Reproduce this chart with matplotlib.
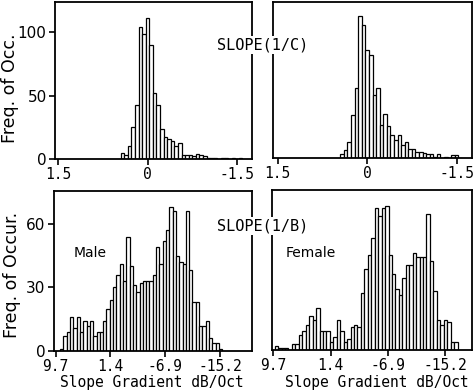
import numpy as np
import matplotlib
matplotlib.use("Agg")
import matplotlib.pyplot as plt

# slope histograms, values
top_bin_width = 0.06
top_first_center = 0.42
top_left_counts = [5, 3, 10, 25, 43, 104, 99, 111, 90, 52, 43, 24, 17, 16, 14, 10, 13,
                   3, 3, 3, 2, 4, 3, 2, 1, 1, 1, 0, 1, 1, 0, 1, 0, 1]
top_right_counts = [3, 6, 13, 34, 55, 112, 105, 85, 81, 50, 55, 26, 35, 25, 18, 14, 18,
                    10, 13, 7, 7, 5, 5, 4, 3, 3, 1, 3, 0, 1, 0, 2, 2, 0]

bottom_bin_width = 0.5
bottom_first_center = 9.25
male_counts = [0, 1, 7, 9, 16, 11, 16, 9, 14, 12, 14, 7, 9, 9, 14, 20, 24, 30, 36, 41,
               33, 54, 40, 31, 28, 32, 33, 33, 33, 36, 49, 41, 52, 57, 68, 66, 45, 42,
               41, 66, 38, 23, 23, 12, 12, 14, 6, 4, 4, 1]
female_counts = [2, 1, 1, 1, 0, 3, 3, 7, 9, 12, 16, 14, 20, 9, 9, 9, 4, 6, 14, 9, 4, 5,
                 11, 12, 11, 27, 38, 45, 53, 67, 63, 67, 68, 45, 36, 29, 26, 34, 40, 40,
                 46, 44, 44, 44, 64, 42, 28, 14, 12, 14, 13, 4, 4]

top_xticks = [1.5, 0, -1.5]
top_xticklabels = ["1.5", "0", "-1.5"]
top_yticks = [0, 50, 100]
bottom_xticks = [9.7, 1.4, -6.9, -15.2]
bottom_xticklabels = ["9.7", "1.4", "-6.9", "-15.2"]
bottom_yticks = [0, 30, 60]

W, H = 474, 391
fig = plt.figure(figsize=(W / 100, H / 100), dpi=100)


def px_axes(left, top, right, bottom):
    # axes box from pixel edges of the reference
    return fig.add_axes([left / W, (H - bottom) / H, (right - left) / W, (bottom - top) / H])


def draw_hist(ax, counts, first_center, width, xlim, ylim, xticks, xlabels, yticks, ylabels):
    centers = first_center - width * np.arange(len(counts))
    ax.bar(centers, counts, width=width, color="white", edgecolor="black", linewidth=0.9)
    ax.set_xlim(*xlim)
    ax.set_ylim(*ylim)
    ax.set_xticks(xticks)
    ax.set_xticklabels(xlabels, family="DejaVu Sans Mono", fontsize=10.5)
    if ylabels:
        ax.set_yticks(yticks)
        ax.set_yticklabels([str(t) for t in yticks], fontsize=11)
    else:
        # right-hand panels share the scale but show no y ticks
        ax.set_yticks([])
    ax.tick_params(direction="out", length=4, width=1.2, pad=2)
    for s in ax.spines.values():
        s.set_linewidth(1.3)


ax_tl = px_axes(55, 2, 252, 159)
draw_hist(ax_tl, top_left_counts, top_first_center, top_bin_width, (1.55, -1.75), (0, 124),
          top_xticks, top_xticklabels, top_yticks, True)

ax_tr = px_axes(273, 2, 472, 158)
draw_hist(ax_tr, top_right_counts, top_first_center, top_bin_width, (1.58, -1.76), (0, 123),
          top_xticks, top_xticklabels, top_yticks, False)

ax_bl = px_axes(54, 191, 252, 351)
draw_hist(ax_bl, male_counts, bottom_first_center, bottom_bin_width, (9.93, -20.0), (0, 75.5),
          bottom_xticks, bottom_xticklabels, bottom_yticks, True)

ax_br = px_axes(272, 190, 472, 350)
draw_hist(ax_br, female_counts, bottom_first_center, bottom_bin_width, (9.89, -19.1), (0, 75.5),
          bottom_xticks, bottom_xticklabels, bottom_yticks, False)

# labels placed in pixel coords of the reference
box = dict(facecolor="white", edgecolor="none", pad=1)
fig.text(263 / W, (H - 45) / H, "SLOPE(1/C)", family="DejaVu Sans Mono", fontsize=11,
         ha="center", va="center", bbox=box)
fig.text(263 / W, (H - 226) / H, "SLOPE(1/B)", family="DejaVu Sans Mono", fontsize=11,
         ha="center", va="center", bbox=box)
fig.text(90 / W, (H - 253) / H, "Male", fontsize=10, ha="center", va="center")
fig.text(311 / W, (H - 253) / H, "Female", fontsize=10, ha="center", va="center")

fig.text(10 / W, (H - 88) / H, "Freq. of Occ.", fontsize=12.5, rotation=90,
         ha="center", va="center")
fig.text(12 / W, (H - 275) / H, "Freq. of Occur.", fontsize=12.5, rotation=90,
         ha="center", va="center")
fig.text(152 / W, (H - 383) / H, "Slope Gradient dB/Oct", family="DejaVu Sans Mono",
         fontsize=10.5, ha="center", va="center")
fig.text(377 / W, (H - 383) / H, "Slope Gradient dB/Oct", family="DejaVu Sans Mono",
         fontsize=10.5, ha="center", va="center")

fig.savefig("out.png", dpi=100)
